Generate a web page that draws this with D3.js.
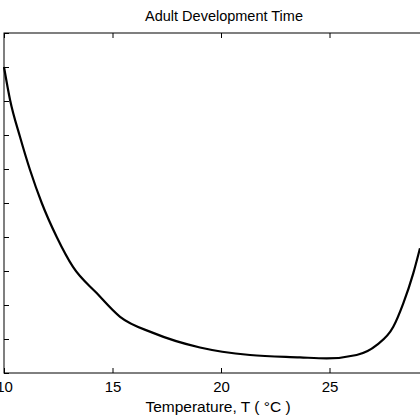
<!DOCTYPE html><html><head><meta charset="utf-8">
<script src="https://cdn.jsdelivr.net/npm/d3@7"></script>
<style>body{margin:0;background:#fff}text{font-family:"Liberation Sans",Arial,sans-serif}</style></head><body>
<svg id="c" width="420" height="420"></svg>
<script>
const temps=[10,10.28,10.74,11.2,11.74,12.43,13.18,14.27,15.35,16.87,19.03,21.34,23.64,24.87,26.25,27.17,27.94,28.4,28.86,29.17];
const times=[9.0,8.03,6.94,5.97,5.0,4.0,3.12,2.35,1.65,1.18,0.75,0.53,0.46,0.43,0.53,0.82,1.36,2.05,2.93,3.67];
const xTicks=[10,15,20,25];
const yTicks=[0,1,2,3,4,5,6,7,8,9,10];
const svg=d3.select("#c");
const x=d3.scaleLinear().domain([10,30]).range([4,438]);
const y=d3.scaleLinear().domain([0,10]).range([373,33]);
svg.append("rect").attr("x",4).attr("y",33).attr("width",440).attr("height",340).attr("fill","none").attr("stroke","#000");
svg.append("g").attr("transform","translate(0,373)").call(d3.axisBottom(x).tickValues(xTicks).tickSize(-5).tickPadding(8).tickFormat(d3.format("d")))
 .call(g=>{g.select(".domain").remove();g.selectAll("text").attr("font-size",15).attr("font-family","Liberation Sans,Arial,sans-serif");});
svg.append("g").attr("transform","translate(4,0)").call(d3.axisLeft(y).tickValues(yTicks).tickSize(-5).tickFormat(""))
 .call(g=>g.select(".domain").remove());
svg.append("g").attr("transform","translate(0,33)").call(d3.axisTop(x).tickValues(xTicks).tickSize(-5).tickFormat(""))
 .call(g=>g.select(".domain").remove());
svg.append("path").datum(temps.map((t,i)=>[t,times[i]])).attr("fill","none").attr("stroke","#000").attr("stroke-width",2.2)
 .attr("d",d3.line().x(d=>x(d[0])).y(d=>y(d[1])).curve(d3.curveMonotoneX));
svg.append("text").attr("x",224).attr("y",21).attr("text-anchor","middle").attr("font-size",14.5).text("Adult Development Time");
svg.append("text").attr("x",218).attr("y",412).attr("text-anchor","middle").attr("font-size",15.5).text("Temperature, T ( °C )");
</script></body></html>
